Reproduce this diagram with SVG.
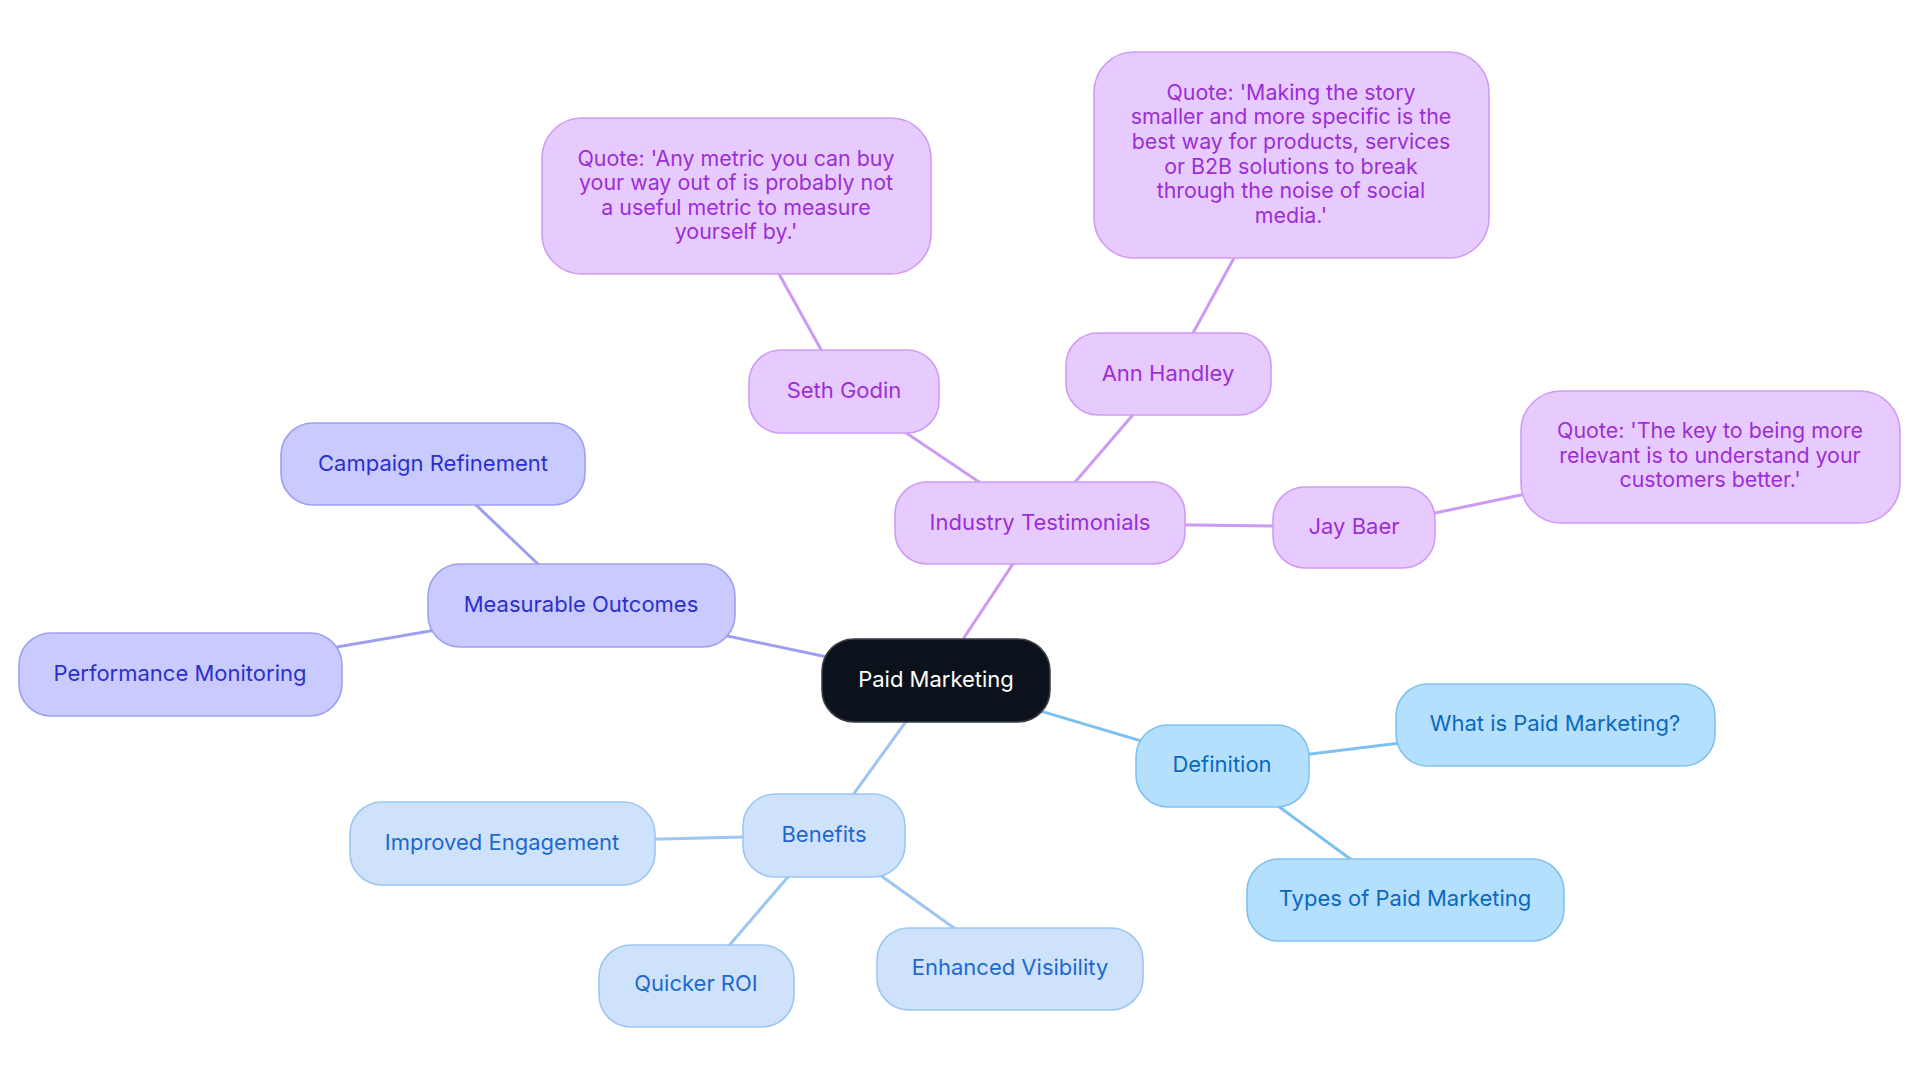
<svg xmlns="http://www.w3.org/2000/svg" width="1920" height="1083" viewBox="0 0 1920 1083">
<style>
text{font-family:Inter,"Noto Sans","Liberation Sans",sans-serif;font-size:22px;text-anchor:middle}
.q text{font-size:21.4px}
.pu rect{fill:#E8CBFE;stroke:#CF9CF4;stroke-width:1.6}
.pu text{fill:#9A2FD6}
.in rect{fill:#C9CAFD;stroke:#9DA0F2;stroke-width:1.6}
.in text{fill:#2C30CC}
.lb rect{fill:#CEE3FB;stroke:#9EC6F1;stroke-width:1.6}
.lb text{fill:#1E68CF}
.bl rect{fill:#B4DFFD;stroke:#7FC2EF;stroke-width:1.6}
.bl text{fill:#0B69BD}
.rt rect{fill:#0C121B;stroke:#3a3f47;stroke-width:1.6}
.rt text{fill:#ffffff}
#connectors line{stroke-width:3;stroke-linecap:round}
.cpu{stroke:#CC9AF4}
.cin{stroke:#9C9FF2}
.clb{stroke:#9FC6F1}
.cbl{stroke:#7EC1EE}
</style>
<rect width="1920" height="1083" fill="#ffffff"/>
<g id="connectors">
<line class="cpu" x1="936" y1="680" x2="1040" y2="523"/>
<line class="cpu" x1="1040" y1="523" x2="844" y2="391"/>
<line class="cpu" x1="844" y1="391" x2="779" y2="274"/>
<line class="cpu" x1="1040" y1="523" x2="1168" y2="374"/>
<line class="cpu" x1="1193" y1="333" x2="1234" y2="258"/>
<line class="cpu" x1="1040" y1="523" x2="1354" y2="527"/>
<line class="cpu" x1="1435" y1="513" x2="1521" y2="495"/>
<line class="cin" x1="936" y1="680" x2="581" y2="605"/>
<line class="cin" x1="581" y1="605" x2="433" y2="464"/>
<line class="cin" x1="581" y1="605" x2="180" y2="674"/>
<line class="clb" x1="936" y1="680" x2="824" y2="835"/>
<line class="clb" x1="824" y1="835" x2="502" y2="843"/>
<line class="clb" x1="824" y1="835" x2="696" y2="984"/>
<line class="clb" x1="824" y1="835" x2="1010" y2="968"/>
<line class="cbl" x1="936" y1="680" x2="1222" y2="765"/>
<line class="cbl" x1="1222" y1="765" x2="1555" y2="724"/>
<line class="cbl" x1="1222" y1="765" x2="1405" y2="899"/>
</g>
<g id="n-root" class="rt"><rect x="822" y="639" width="228" height="83" rx="32"/><text x="936" y="687">Paid Marketing</text></g>
<g id="n-industry" class="pu"><rect x="895" y="482" width="290" height="82" rx="32"/><text x="1040" y="530">Industry Testimonials</text></g>
<g id="n-seth" class="pu"><rect x="749" y="350" width="190" height="83" rx="32"/><text x="844" y="398">Seth Godin</text></g>
<g id="n-seth-quote" class="pu q"><rect x="542" y="118" width="389" height="156" rx="40"/>
<text x="736" y="166">Quote: 'Any metric you can buy</text>
<text x="736" y="190">your way out of is probably not</text>
<text x="736" y="215">a useful metric to measure</text>
<text x="736" y="239">yourself by.'</text></g>
<g id="n-ann" class="pu"><rect x="1066" y="333" width="205" height="82" rx="32"/><text x="1168" y="381">Ann Handley</text></g>
<g id="n-ann-quote" class="pu q"><rect x="1094" y="52" width="395" height="206" rx="40"/>
<text x="1291" y="100">Quote: 'Making the story</text>
<text x="1291" y="124">smaller and more specific is the</text>
<text x="1291" y="149">best way for products, services</text>
<text x="1291" y="174">or B2B solutions to break</text>
<text x="1291" y="198">through the noise of social</text>
<text x="1291" y="223">media.'</text></g>
<g id="n-jay" class="pu"><rect x="1273" y="487" width="162" height="81" rx="32"/><text x="1354" y="534">Jay Baer</text></g>
<g id="n-jay-quote" class="pu q"><rect x="1521" y="391" width="379" height="132" rx="40"/>
<text x="1710" y="438">Quote: 'The key to being more</text>
<text x="1710" y="463">relevant is to understand your</text>
<text x="1710" y="487">customers better.'</text></g>
<g id="n-measurable" class="in"><rect x="428" y="564" width="307" height="83" rx="32"/><text x="581" y="612">Measurable Outcomes</text></g>
<g id="n-campaign" class="in"><rect x="281" y="423" width="304" height="82" rx="32"/><text x="433" y="471">Campaign Refinement</text></g>
<g id="n-performance" class="in"><rect x="19" y="633" width="323" height="83" rx="32"/><text x="180" y="681">Performance Monitoring</text></g>
<g id="n-benefits" class="lb"><rect x="743" y="794" width="162" height="83" rx="32"/><text x="824" y="842">Benefits</text></g>
<g id="n-improved" class="lb"><rect x="350" y="802" width="305" height="83" rx="32"/><text x="502" y="850">Improved Engagement</text></g>
<g id="n-quicker" class="lb"><rect x="599" y="945" width="195" height="82" rx="32"/><text x="696" y="991">Quicker ROI</text></g>
<g id="n-enhanced" class="lb"><rect x="877" y="928" width="266" height="82" rx="32"/><text x="1010" y="975">Enhanced Visibility</text></g>
<g id="n-definition" class="bl"><rect x="1136" y="725" width="173" height="82" rx="32"/><text x="1222" y="772">Definition</text></g>
<g id="n-what" class="bl"><rect x="1396" y="684" width="319" height="82" rx="32"/><text x="1555" y="731">What is Paid Marketing?</text></g>
<g id="n-types" class="bl"><rect x="1247" y="859" width="317" height="82" rx="32"/><text x="1405" y="906">Types of Paid Marketing</text></g>
</svg>
